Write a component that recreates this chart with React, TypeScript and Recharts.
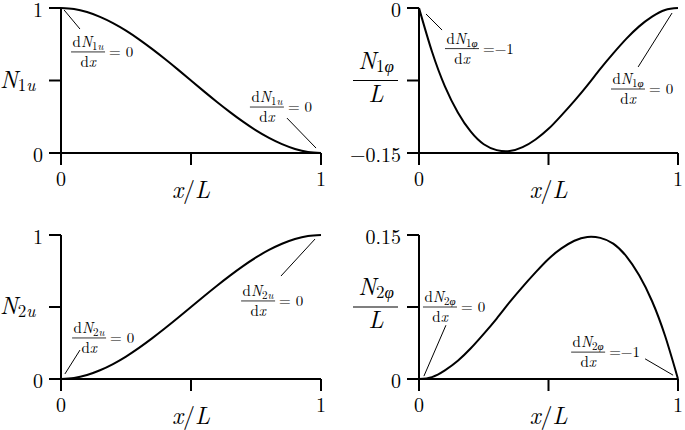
import React from 'react';
import { LineChart, Line, XAxis, YAxis, ReferenceLine, ReferenceDot } from 'recharts';

// x/L sample positions
const xPos = [0, 0.05, 0.1, 0.15, 0.2, 0.25, 0.3, 0.35, 0.4, 0.45, 0.5, 0.55, 0.6, 0.65, 0.7, 0.75, 0.8, 0.85, 0.9, 0.95, 1];

// shape function values
const n1u = [1, 0.993, 0.972, 0.939, 0.896, 0.844, 0.784, 0.718, 0.648, 0.575, 0.5, 0.425, 0.352, 0.282, 0.216, 0.156, 0.104, 0.061, 0.028, 0.007, 0];
const n1phi = [0, -0.045, -0.081, -0.108, -0.128, -0.141, -0.147, -0.148, -0.144, -0.136, -0.125, -0.111, -0.096, -0.08, -0.063, -0.047, -0.032, -0.019, -0.009, -0.002, 0];
const n2u = [0, 0.007, 0.028, 0.061, 0.104, 0.156, 0.216, 0.282, 0.352, 0.425, 0.5, 0.575, 0.648, 0.718, 0.784, 0.844, 0.896, 0.939, 0.972, 0.993, 1];
const n2phi = [0, 0.002, 0.009, 0.019, 0.032, 0.047, 0.063, 0.08, 0.096, 0.111, 0.125, 0.136, 0.144, 0.148, 0.147, 0.141, 0.128, 0.108, 0.081, 0.045, 0];

const xTicks = [0, 0.5, 1];
const xTickLabels = ['0', '', '1'];
const uTicks = [0, 0.5, 1];
const uTickLabels = ['0', '', '1'];
const phi1Ticks = [-0.15, -0.075, 0];
const phi1TickLabels = ['\u22120.15', '', '0'];
const phi2Ticks = [0, 0.075, 0.15];
const phi2TickLabels = ['0', '', '0.15'];

const FONT = 'Latin Modern Roman';
const serif = { fontFamily: FONT };

const toRows = (ys: number[]) => xPos.map((x, i) => ({ x, v: ys[i] }));

// derivative annotation: fraction bar centred on (cx, cy)
const Frac = ({ cx, cy, sub, rhs }: any) => (
  <g fill="#000">
    <text x={cx} y={cy - 5} textAnchor="middle" fontSize={15} style={serif}>
      d<tspan fontStyle="italic">N</tspan>
      <tspan fontSize={11} dy={3}>{sub[0]}</tspan>
      <tspan fontSize={11} fontStyle="italic">{sub[1]}</tspan>
    </text>
    <line x1={cx - 17} x2={cx + 17} y1={cy} y2={cy} stroke="#000" strokeWidth={0.8} />
    <text x={cx} y={cy + 15} textAnchor="middle" fontSize={15} style={serif}>
      d<tspan fontStyle="italic">x</tspan>
    </text>
    <text x={cx + 21} y={cy + 5} fontSize={15} style={serif}>{rhs}</text>
  </g>
);

const XLabel = ({ viewBox }: any) => (
  <text x={viewBox.x + viewBox.width / 2} y={viewBox.y + 45} textAnchor="middle" style={serif} fontSize={24} fill="#000">
    <tspan fontStyle="italic">x</tspan>/<tspan fontStyle="italic">L</tspan>
  </text>
);

const uLabel = (sub: string) => ({ viewBox }: any) => (
  <text x={viewBox.x} y={viewBox.y + viewBox.height / 2 + 7} style={serif} fontSize={24} fill="#000">
    <tspan fontStyle="italic">N</tspan>
    <tspan fontSize={17} dy={3}>{sub}</tspan>
    <tspan fontSize={17} fontStyle="italic">u</tspan>
  </text>
);

const phiLabel = (sub: string) => ({ viewBox }: any) => {
  const cx = viewBox.x + 36;
  const mid = viewBox.y + viewBox.height / 2;
  return (
    <g fill="#000">
      <text x={cx} y={mid - 12} textAnchor="middle" fontSize={24} style={serif}>
        <tspan fontStyle="italic">N</tspan>
        <tspan fontSize={17} dy={3}>{sub}</tspan>
        <tspan fontSize={17} fontStyle="italic">{'\u03c6'}</tspan>
      </text>
      <line x1={viewBox.x + 13} x2={viewBox.x + 58} y1={mid} y2={mid} stroke="#000" strokeWidth={1.2} />
      <text x={cx} y={mid + 21} textAnchor="middle" fontSize={24} fontStyle="italic" style={serif}>L</text>
    </g>
  );
};

const XTick = ({ x, y, payload }: any) => (
  <text x={x} y={y + 7} dy="0.71em" textAnchor="middle" fontSize={20} fill="#000" style={serif}>
    {xTickLabels[xTicks.indexOf(payload.value)]}
  </text>
);

const yTick = (ticks: number[], labels: string[]) => ({ x, y, payload }: any) => (
  <text x={x - 6} y={y + 2} dy="0.34em" textAnchor="end" fontSize={20} fill="#000" style={serif}>
    {labels[ticks.indexOf(payload.value)]}
  </text>
);

const axisLine = { stroke: '#000', strokeWidth: 2 };

const Panel = ({ left, top, width, margin, yWidth, xHeight, rows, domain, yTicks, yTickLabels, yLabel, notes, leaders }: any) => (
  <div style={{ position: 'absolute', left, top }}>
    <LineChart width={width} height={215} data={rows} margin={margin}>
      <XAxis
        dataKey="x" type="number" domain={[0, 1]} ticks={xTicks} interval={0}
        tick={XTick} tickSize={12} tickMargin={0} height={xHeight}
        axisLine={axisLine} tickLine={axisLine}
        label={{ content: XLabel }}
      />
      <XAxis xAxisId="top" orientation="top" dataKey="x" type="number" domain={[0, 1]} height={0} tick={false} tickLine={false} axisLine={axisLine} />
      <YAxis
        type="number" domain={domain} ticks={yTicks} interval={0}
        tick={yTick(yTicks, yTickLabels)} tickSize={12} tickMargin={0} width={yWidth}
        axisLine={axisLine} tickLine={axisLine}
        label={{ content: yLabel }}
      />
      <YAxis yAxisId="right" orientation="right" type="number" domain={domain} width={0} tick={false} tickLine={false} axisLine={axisLine} />
      {leaders.map((s: any, i: number) => (
        <ReferenceLine key={`l${i}`} segment={s} stroke="#000" strokeWidth={1} ifOverflow="visible" />
      ))}
      <Line dataKey="v" type="natural" stroke="#000" strokeWidth={2} dot={false} isAnimationActive={false} />
      {notes.map((n: any, i: number) => (
        <ReferenceDot key={`n${i}`} x={n.x} y={n.y} r={0} ifOverflow="visible"
          shape={(p: any) => <Frac cx={p.cx} cy={p.cy} sub={n.sub} rhs={n.rhs} />} />
      ))}
    </LineChart>
  </div>
);

export default function App() {
  return (
    <div style={{ position: 'absolute', left: 0, top: 0, width: 685, height: 430, background: '#fff' }}>
      <Panel
        left={0} top={0} width={340} margin={{ top: 8, right: 19, bottom: 0, left: 0 }} yWidth={61} xHeight={62}
        rows={toRows(n1u)} domain={[0, 1]} yTicks={uTicks} yTickLabels={uTickLabels} yLabel={uLabel('1')}
        notes={[
          { x: 0.104, y: 0.697, sub: ['1', 'u'], rhs: '= 0' },
          { x: 0.792, y: 0.317, sub: ['1', 'u'], rhs: '= 0' },
        ]}
        leaders={[
          [{ x: 0.012, y: 0.986 }, { x: 0.073, y: 0.855 }],
          [{ x: 0.869, y: 0.241 }, { x: 0.981, y: 0.034 }],
        ]}
      />
      <Panel
        left={340} top={0} width={345} margin={{ top: 8, right: 7, bottom: 0, left: 0 }} yWidth={79} xHeight={62}
        rows={toRows(n1phi)} domain={[-0.15, 0]} yTicks={phi1Ticks} yTickLabels={phi1TickLabels} yLabel={phiLabel('1')}
        notes={[
          { x: 0.166, y: -0.042, sub: ['1', '\u03c6'], rhs: '=\u22121' },
          { x: 0.807, y: -0.0838, sub: ['1', '\u03c6'], rhs: '= 0' },
        ]}
        leaders={[
          [{ x: 0.027, y: -0.0062 }, { x: 0.089, y: -0.0228 }],
          [{ x: 0.977, y: -0.0052 }, { x: 0.846, y: -0.061 }],
        ]}
      />
      <Panel
        left={0} top={215} width={340} margin={{ top: 20, right: 19, bottom: 0, left: 0 }} yWidth={61} xHeight={51}
        rows={toRows(n2u)} domain={[0, 1]} yTicks={uTicks} yTickLabels={uTickLabels} yLabel={uLabel('2')}
        notes={[
          { x: 0.108, y: 0.285, sub: ['2', 'u'], rhs: '= 0' },
          { x: 0.758, y: 0.542, sub: ['2', 'u'], rhs: '= 0' },
        ]}
        leaders={[
          [{ x: 0.015, y: 0.035 }, { x: 0.073, y: 0.201 }],
          [{ x: 0.977, y: 0.972 }, { x: 0.846, y: 0.715 }],
        ]}
      />
      <Panel
        left={340} top={215} width={345} margin={{ top: 20, right: 7, bottom: 0, left: 0 }} yWidth={79} xHeight={51}
        rows={toRows(n2phi)} domain={[0, 0.15]} yTicks={phi2Ticks} yTickLabels={phi2TickLabels} yLabel={phiLabel('2')}
        notes={[
          { x: 0.081, y: 0.075, sub: ['2', '\u03c6'], rhs: '= 0' },
          { x: 0.653, y: 0.028, sub: ['2', '\u03c6'], rhs: '=\u22121' },
        ]}
        leaders={[
          [{ x: 0.019, y: 0.003 }, { x: 0.104, y: 0.056 }],
          [{ x: 0.873, y: 0.021 }, { x: 0.981, y: 0.004 }],
        ]}
      />
    </div>
  );
}
